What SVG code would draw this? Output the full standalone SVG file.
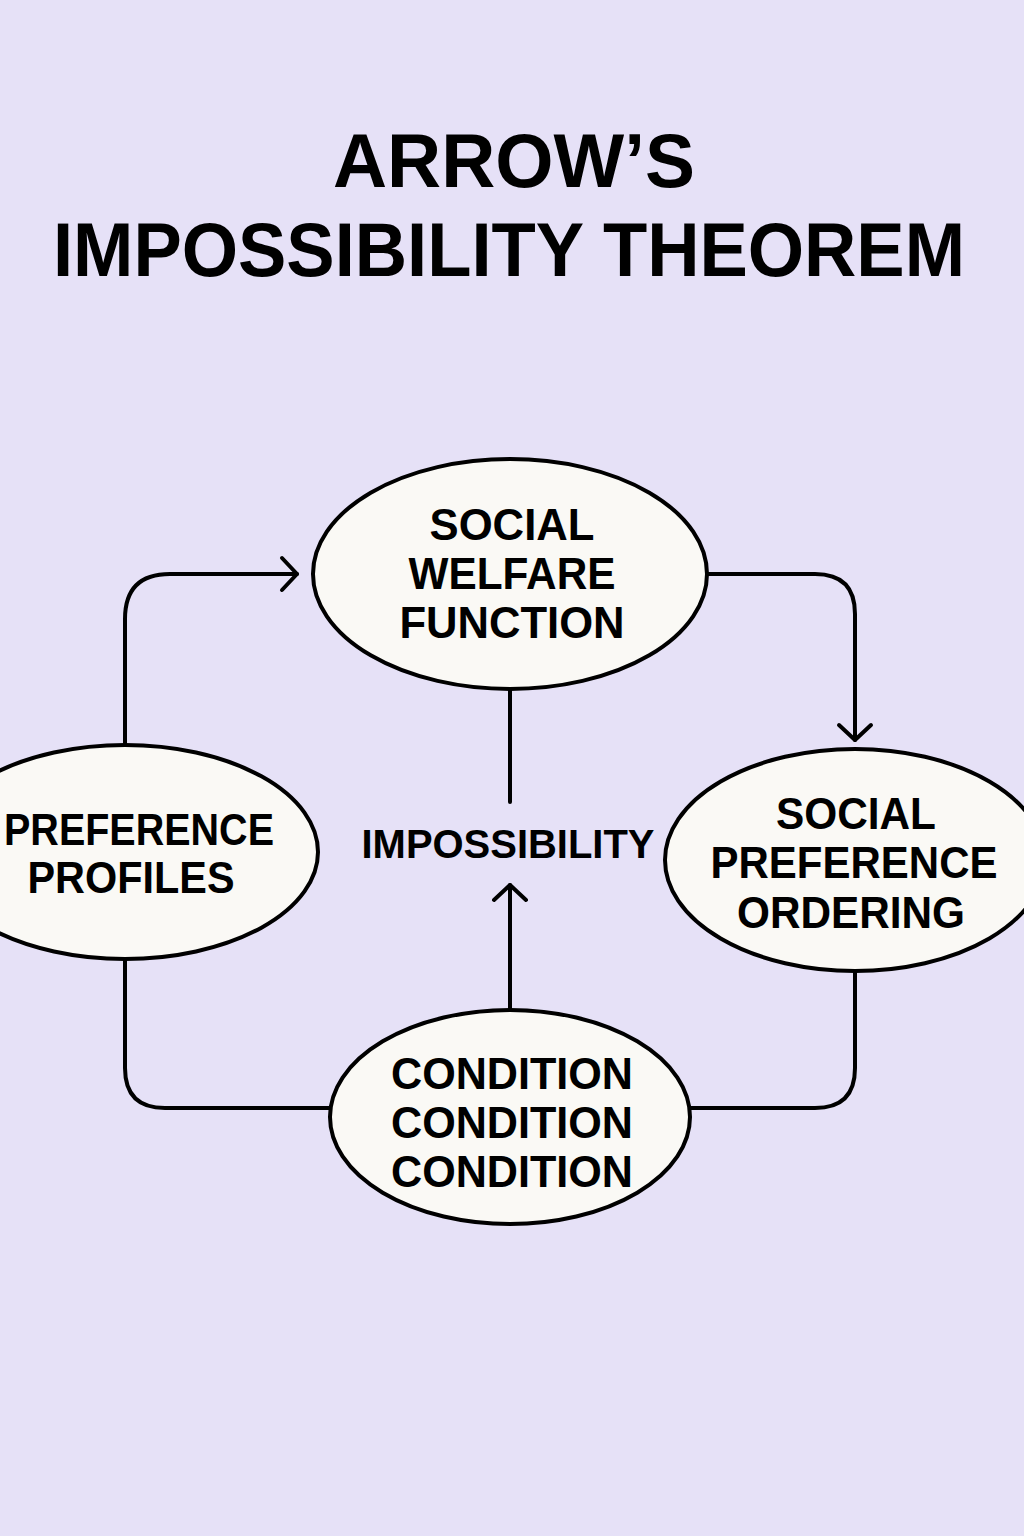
<svg xmlns="http://www.w3.org/2000/svg" width="1024" height="1536" viewBox="0 0 1024 1536">
  <defs>
    <style>
      .bg { fill: #E6E1F7; }
      .node { fill: #FAF9F5; stroke: #000; stroke-width: 4; }
      .conn { fill: none; stroke: #000; stroke-width: 4; stroke-linecap: round; stroke-linejoin: round; }
      .lbl { font-family: "Liberation Sans", Arial, sans-serif; font-weight: bold; font-size: 44px; fill: #000; text-anchor: middle; }
      .title { font-family: "Liberation Sans", Arial, sans-serif; font-weight: bold; font-size: 76px; fill: #000; text-anchor: middle; }
    </style>
    <marker id="chev" markerUnits="userSpaceOnUse" markerWidth="40" markerHeight="40" refX="0" refY="0" viewBox="-20 -20 40 40" orient="auto" overflow="visible">
      <path d="M-15,-16 L0,0 L-15,16" fill="none" stroke="#000" stroke-width="4" stroke-linecap="round" stroke-linejoin="round"/>
    </marker>
  </defs>
  <rect class="bg" x="0" y="0" width="1024" height="1536"/>

  <g id="title">
    <text class="title" x="514" y="187" textLength="362" lengthAdjust="spacingAndGlyphs">ARROW’S</text>
    <text class="title" x="509" y="276" textLength="912" lengthAdjust="spacingAndGlyphs">IMPOSSIBILITY THEOREM</text>
  </g>

  <g id="connectors">
    <path class="conn" d="M125,745 L125,619 Q125,574 170,574 L297,574" marker-end="url(#chev)"/>
    <path class="conn" d="M707,574 L815,574 Q855,574 855,614 L855,740" marker-end="url(#chev)"/>
    <path class="conn" d="M510,689 L510,802"/>
    <path class="conn" d="M510,1010 L510,885" marker-end="url(#chev)"/>
    <path class="conn" d="M125,960 L125,1068 Q125,1108 165,1108 L330,1108"/>
    <path class="conn" d="M855,971 L855,1068 Q855,1108 815,1108 L690,1108"/>
  </g>

  <g id="node-swf">
    <ellipse class="node" cx="510" cy="574" rx="197" ry="115"/>
    <text class="lbl" x="512" y="540" textLength="165" lengthAdjust="spacingAndGlyphs">SOCIAL</text>
    <text class="lbl" x="512" y="589" textLength="207" lengthAdjust="spacingAndGlyphs">WELFARE</text>
    <text class="lbl" x="512" y="638" textLength="225" lengthAdjust="spacingAndGlyphs">FUNCTION</text>
  </g>

  <g id="node-profiles">
    <ellipse class="node" cx="125" cy="852" rx="193" ry="107"/>
    <text class="lbl" x="139" y="845" textLength="270" lengthAdjust="spacingAndGlyphs">PREFERENCE</text>
    <text class="lbl" x="131" y="893" textLength="207" lengthAdjust="spacingAndGlyphs">PROFILES</text>
  </g>

  <g id="node-ordering">
    <ellipse class="node" cx="855" cy="860" rx="190" ry="111"/>
    <text class="lbl" x="856" y="829" textLength="160" lengthAdjust="spacingAndGlyphs">SOCIAL</text>
    <text class="lbl" x="854" y="878" textLength="287" lengthAdjust="spacingAndGlyphs">PREFERENCE</text>
    <text class="lbl" x="851" y="928" textLength="228" lengthAdjust="spacingAndGlyphs">ORDERING</text>
  </g>

  <g id="node-impossibility">
    <text class="lbl" x="508" y="858" style="font-size:40px" textLength="293" lengthAdjust="spacingAndGlyphs">IMPOSSIBILITY</text>
  </g>

  <g id="node-conditions">
    <ellipse class="node" cx="510" cy="1117" rx="180" ry="107"/>
    <text class="lbl" x="512" y="1089" textLength="242" lengthAdjust="spacingAndGlyphs">CONDITION</text>
    <text class="lbl" x="512" y="1138" textLength="242" lengthAdjust="spacingAndGlyphs">CONDITION</text>
    <text class="lbl" x="512" y="1187" textLength="242" lengthAdjust="spacingAndGlyphs">CONDITION</text>
  </g>
</svg>
